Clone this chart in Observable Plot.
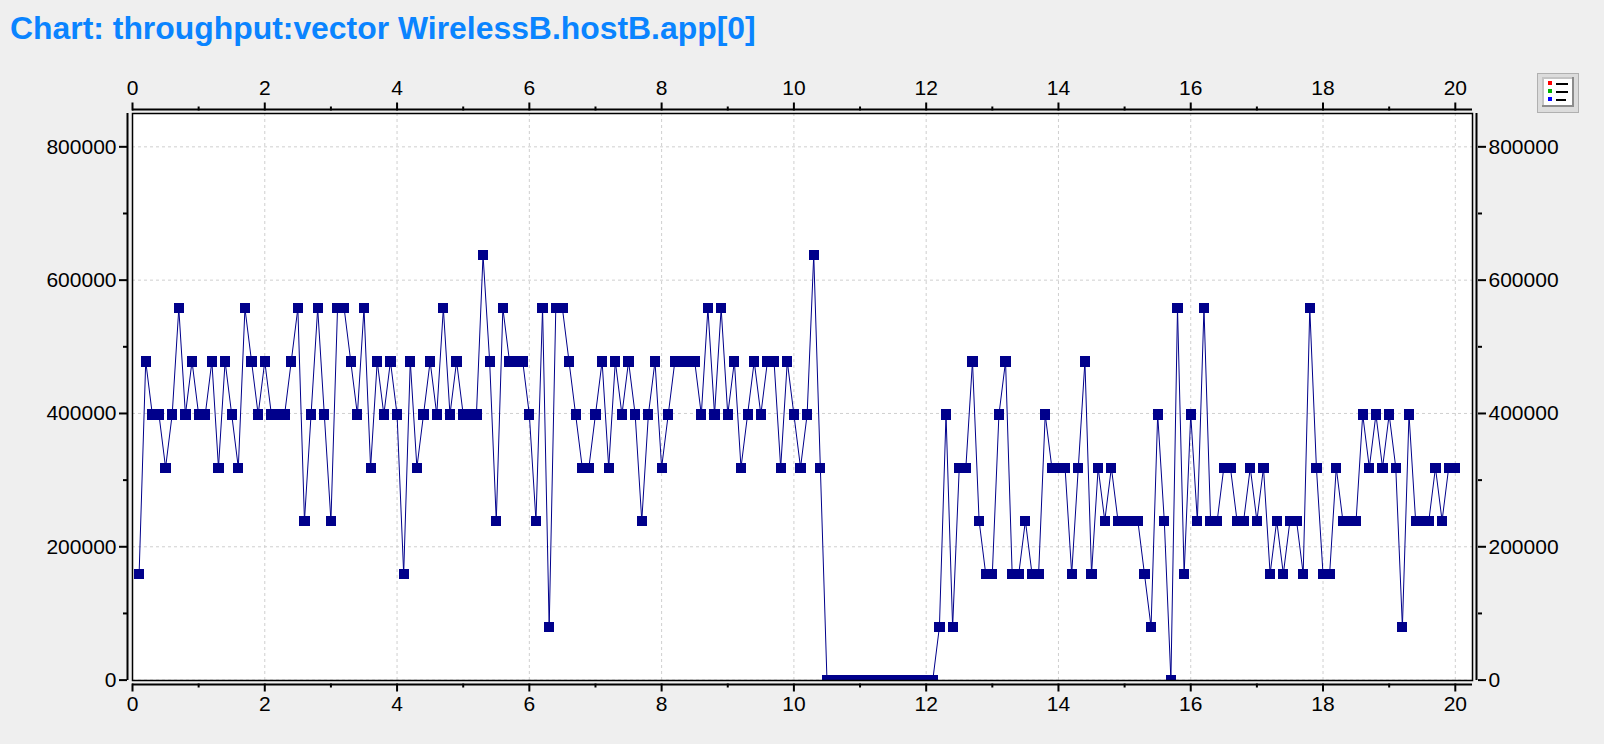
<!DOCTYPE html>
<html>
<head>
<meta charset="utf-8">
<script src="https://cdn.jsdelivr.net/npm/d3@7"></script>
<script src="https://cdn.jsdelivr.net/npm/@observablehq/plot@0.6"></script>
<style>
html,body{margin:0;padding:0;background:#efefef;overflow:hidden;width:1604px;height:744px;position:relative}
#title{height:60px;box-sizing:border-box;padding:11px 0 0 10px;font:bold 31.9px/34px "Liberation Sans",Arial,sans-serif;color:#0a84ff;white-space:nowrap}
#chart svg{display:block}
#icon{position:absolute;left:1537px;top:73px}
</style>
</head>
<body>
<div id="title">Chart: throughput:vector WirelessB.hostB.app[0]</div>
<div id="chart"></div>
<svg id="icon" width="42" height="40" viewBox="0 0 42 40">
  <rect x="0.5" y="0.5" width="41" height="39" fill="#dcdcdc" stroke="#b0b0b0"/>
  <rect x="5" y="4" width="32" height="30" fill="#8c8c8c"/>
  <rect x="5" y="4" width="30" height="28" fill="#c4c4c4"/>
  <rect x="7" y="6" width="28" height="26" fill="#ffffff"/>
  <rect x="11" y="8" width="4" height="4" fill="#ff0000"/>
  <rect x="11" y="16" width="4" height="4" fill="#00b400"/>
  <rect x="11" y="24" width="4" height="4" fill="#0000ff"/>
  <rect x="19" y="10" width="12" height="2" fill="#000"/>
  <rect x="19" y="18" width="12" height="2" fill="#000"/>
  <rect x="19" y="26" width="10" height="2" fill="#000"/>
</svg>
<script>
const times = [
  0.1,0.2,0.3,0.4,0.5,0.6,0.7,0.8,0.9,1.0,
  1.1,1.2,1.3,1.4,1.5,1.6,1.7,1.8,1.9,2.0,
  2.1,2.2,2.3,2.4,2.5,2.6,2.7,2.8,2.9,3.0,
  3.1,3.2,3.3,3.4,3.5,3.6,3.7,3.8,3.9,4.0,
  4.1,4.2,4.3,4.4,4.5,4.6,4.7,4.8,4.9,5.0,
  5.1,5.2,5.3,5.4,5.5,5.6,5.7,5.8,5.9,6.0,
  6.1,6.2,6.3,6.4,6.5,6.6,6.7,6.8,6.9,7.0,
  7.1,7.2,7.3,7.4,7.5,7.6,7.7,7.8,7.9,8.0,
  8.1,8.2,8.3,8.4,8.5,8.6,8.7,8.8,8.9,9.0,
  9.1,9.2,9.3,9.4,9.5,9.6,9.7,9.8,9.9,10.0,
  10.1,10.2,10.3,10.4,10.5,10.6,10.7,10.8,10.9,11.0,
  11.1,11.2,11.3,11.4,11.5,11.6,11.7,11.8,11.9,12.0,
  12.1,12.2,12.3,12.4,12.5,12.6,12.7,12.8,12.9,13.0,
  13.1,13.2,13.3,13.4,13.5,13.6,13.7,13.8,13.9,14.0,
  14.1,14.2,14.3,14.4,14.5,14.6,14.7,14.8,14.9,15.0,
  15.1,15.2,15.3,15.4,15.5,15.6,15.7,15.8,15.9,16.0,
  16.1,16.2,16.3,16.4,16.5,16.6,16.7,16.8,16.9,17.0,
  17.1,17.2,17.3,17.4,17.5,17.6,17.7,17.8,17.9,18.0,
  18.1,18.2,18.3,18.4,18.5,18.6,18.7,18.8,18.9,19.0,
  19.1,19.2,19.3,19.4,19.5,19.6,19.7,19.8,19.9,20.0
];
const throughput = [
  159360,478080,398400,398400,318720,398400,557760,398400,478080,398400,
  398400,478080,318720,478080,398400,318720,557760,478080,398400,478080,
  398400,398400,398400,478080,557760,239040,398400,557760,398400,239040,
  557760,557760,478080,398400,557760,318720,478080,398400,478080,398400,
  159360,478080,318720,398400,478080,398400,557760,398400,478080,398400,
  398400,398400,637440,478080,239040,557760,478080,478080,478080,398400,
  239040,557760,79680,557760,557760,478080,398400,318720,318720,398400,
  478080,318720,478080,398400,478080,398400,239040,398400,478080,318720,
  398400,478080,478080,478080,478080,398400,557760,398400,557760,398400,
  478080,318720,398400,478080,398400,478080,478080,318720,478080,398400,
  318720,398400,637440,318720,0,0,0,0,0,0,
  0,0,0,0,0,0,0,0,0,0,
  0,79680,398400,79680,318720,318720,478080,239040,159360,159360,
  398400,478080,159360,159360,239040,159360,159360,398400,318720,318720,
  318720,159360,318720,478080,159360,318720,239040,318720,239040,239040,
  239040,239040,159360,79680,398400,239040,0,557760,159360,398400,
  239040,557760,239040,239040,318720,318720,239040,239040,318720,239040,
  318720,159360,239040,159360,239040,239040,159360,557760,318720,159360,
  159360,318720,239040,239040,239040,398400,318720,398400,318720,398400,
  318720,79680,398400,239040,239040,239040,318720,239040,318720,318720
];
const xMajor = [0,2,4,6,8,10,12,14,16,18,20];
const xMinor = [1,3,5,7,9,11,13,15,17,19];
const yMajor = [0,200000,400000,600000,800000];
const yMinor = [100000,300000,500000,700000];
const xDomain = [0, 20.26];
const yDomain = [-600, 850000];
const navy = "#00008b";
const font = '"Liberation Sans", Arial, sans-serif';
const fmt = d => String(d);

const points = times.map((t, i) => ({t, v: throughput[i]}));

const axisX = (anchor, sign, pad) => [
  Plot.axisX(xMajor, {anchor, tickSize: 8, tickPadding: pad, strokeWidth: 2, stroke: "#000", fill: "#000",
    fontSize: 21, fontFamily: font, tickFormat: fmt, label: null, dy: sign * 3.5}),
  Plot.axisX(xMinor, {anchor, tickSize: 4, strokeWidth: 2, stroke: "#000", fill: "none", tickFormat: () => "", label: null, dy: sign * 3.5})
];
const axisY = (anchor, sign) => [
  Plot.axisY(yMajor, {anchor, tickSize: 8, tickPadding: 3, strokeWidth: 2, stroke: "#000", fill: "#000",
    fontSize: 21, fontFamily: font, tickFormat: fmt, label: null, dx: sign * 5}),
  Plot.axisY(yMinor, {anchor, tickSize: 4, strokeWidth: 2, stroke: "#000", fill: "none", tickFormat: () => "", label: null, dx: sign * 5})
];

const chart = Plot.plot({
  width: 1604,
  height: 684,
  marginLeft: 132,
  marginRight: 132,
  marginTop: 53,
  marginBottom: 64,
  style: {background: "transparent", color: "#000", fontFamily: font, overflow: "visible"},
  x: {domain: xDomain, label: null},
  y: {domain: yDomain, label: null},
  marks: [
    Plot.frame({fill: "#fff", stroke: null}),
    Plot.gridX(xMajor, {stroke: "#cfcfcf", strokeOpacity: 1, strokeDasharray: "3,3"}),
    Plot.gridY(yMajor, {stroke: "#cfcfcf", strokeOpacity: 1, strokeDasharray: "3,3"}),
    Plot.line(points, {x: "t", y: "v", stroke: navy, strokeWidth: 1, curve: "linear", clip: true}),
    Plot.dot(points, {x: "t", y: "v", symbol: "square", r: 5.75, fill: navy, stroke: null, clip: true, shapeRendering: "crispEdges"}),
    Plot.frame({stroke: "#000", strokeWidth: 1.5}),
    Plot.ruleY([yDomain[0]], {x1: xDomain[0], x2: xDomain[1], dy: 4, stroke: "#000", strokeWidth: 2}),
    Plot.ruleY([yDomain[1]], {x1: xDomain[0], x2: xDomain[1], dy: -4, stroke: "#000", strokeWidth: 2}),
    Plot.ruleX([xDomain[0]], {y1: yDomain[0], y2: yDomain[1], dx: -5, stroke: "#000", strokeWidth: 2}),
    Plot.ruleX([xDomain[1]], {y1: yDomain[0], y2: yDomain[1], dx: 4, stroke: "#000", strokeWidth: 2}),
    ...axisX("bottom", 1, 4),
    ...axisX("top", -1, 7),
    ...axisY("left", -1),
    ...axisY("right", 1)
  ]
});
document.getElementById("chart").appendChild(chart);
</script>
</body>
</html>
